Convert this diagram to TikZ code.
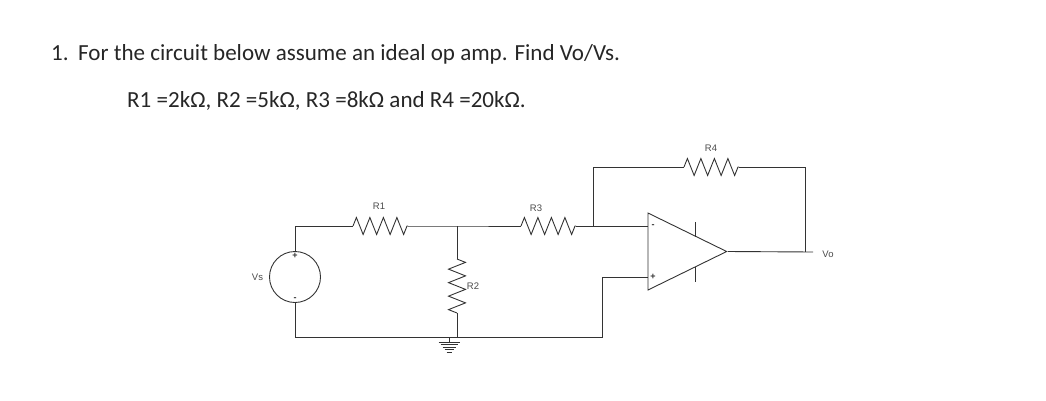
\documentclass[tikz,border=0pt]{standalone}
\usepackage{fontspec}
\setmainfont{Carlito}
\newfontfamily\labelfont{Liberation Sans}
\usetikzlibrary{shapes.geometric, decorations.pathmorphing, calc}
\definecolor{wirecol}{HTML}{333333}
\definecolor{labelcol}{HTML}{4A4A4A}
\tikzstyle{wire} = [draw=wirecol, line width=0.9pt]
\tikzstyle{resistor} = [wire, decorate, decoration={zigzag, segment length=13.5pt, amplitude=8.5pt}]
\tikzstyle{source} = [circle, draw=wirecol, line width=0.9pt, minimum size=51pt, inner sep=0pt]
\tikzstyle{opamp} = [isosceles triangle, isosceles triangle stretches, draw=wirecol, line width=0.9pt, minimum width=77pt, minimum height=78.7pt, inner sep=0pt]
\tikzstyle{complabel} = [font=\labelfont\fontsize{9.5}{11}\selectfont, text=labelcol, inner sep=0pt]
\tikzstyle{sign} = [font=\labelfont\bfseries\fontsize{9}{10}\selectfont, text=wirecol, inner sep=0pt]
\tikzstyle{prose} = [font=\fontsize{23.05}{26}\selectfont, text=black!85, anchor=base west, inner sep=0pt]

\begin{document}
\begin{tikzpicture}[x=1pt, y=-1pt]
\useasboundingbox (0,0) rectangle (1046,400);

\node (num) [prose] at (51,60) {1.};
\node (question) [prose] at (78,60) {For the circuit below assume an ideal op amp. Find Vo/Vs.};
\node (values) [prose] at (127,107) {R1 =2kΩ, R2 =5kΩ, R3 =8kΩ and R4 =20kΩ.};

% source and op amp
\node (vs) [source] at (295,277) {};
\node (amp) [opamp] at (672,251.5) {};
\coordinate (ampminus) at (648,226);
\coordinate (ampplus) at (648,277);

% corners and junctions
\coordinate (topleft) at (295,226);
\coordinate (r1a) at (353,226);
\coordinate (r1b) at (408,226);
\coordinate (mid) at (457,226);
\coordinate (r2a) at (457,259);
\coordinate (r2b) at (457,313);
\coordinate (botmid) at (457,337);
\coordinate (botleft) at (295,337);
\coordinate (r3a) at (521,226);
\coordinate (r3b) at (576,226);
\coordinate (fb) at (593,226);
\coordinate (fbtop) at (593,167);
\coordinate (r4a) at (684,167);
\coordinate (r4b) at (739,167);
\coordinate (fbright) at (805,167);
\coordinate (outnode) at (805,252);
\coordinate (outend) at (813,252);
\coordinate (plusbot) at (602,337);
\coordinate (plustop) at (602,277);
\coordinate (gndtop) at (449,337);
\coordinate (gnd) at (449,342);

\draw [wire] (vs.north) -- (topleft) -- (r1a);
\draw [resistor] (r1a) -- (r1b);
\draw [wire] (r1b) -- (mid) -- (r3a);
\draw [resistor] (r3a) -- (r3b);
\draw [wire] (r3b) -- (ampminus);
\draw [wire] (mid) -- (r2a);
\draw [resistor] (r2a) -- (r2b);
\draw [wire] (r2b) -- (botmid);
\draw [wire] (vs.south) -- (botleft) -- (plusbot) -- (plustop) -- (ampplus);
\draw [wire] (fb) -- (fbtop) -- (r4a);
\draw [resistor] (r4a) -- (r4b);
\draw [wire] (r4b) -- (fbright) -- (outnode);
\draw [wire] (amp.apex) -- (outend);

% supply stubs
\draw [wire] (695,222) -- (695,237);
\draw [wire] (695,267) -- (695,282);

% ground
\draw [wire] (gndtop) -- (gnd);
\foreach \i/\w in {0/10.5, 1/8.5, 2/6.5, 3/4.5, 4/2.5}
  \draw [wire] ($(gnd)+(-\w,\i*2.5)$) -- ($(gnd)+(\w,\i*2.5)$);

\node (r1label) [complabel] at (379,206) {R1};
\node (r2label) [complabel] at (473,286) {R2};
\node (r3label) [complabel] at (536,208) {R3};
\node (r4label) [complabel] at (711,148) {R4};
\node (vslabel) [complabel] at (257.5,277) {Vs};
\node (volabel) [complabel] at (828,254) {Vo};
\node (vsplus) [sign] at (295,256) {+};
\node (vsminus) [sign] at (295,299) {-};
\node (ampminuslabel) [sign] at (653,226) {-};
\node (ampplussign) [sign] at (653,277) {+};
\end{tikzpicture}
\end{document}
